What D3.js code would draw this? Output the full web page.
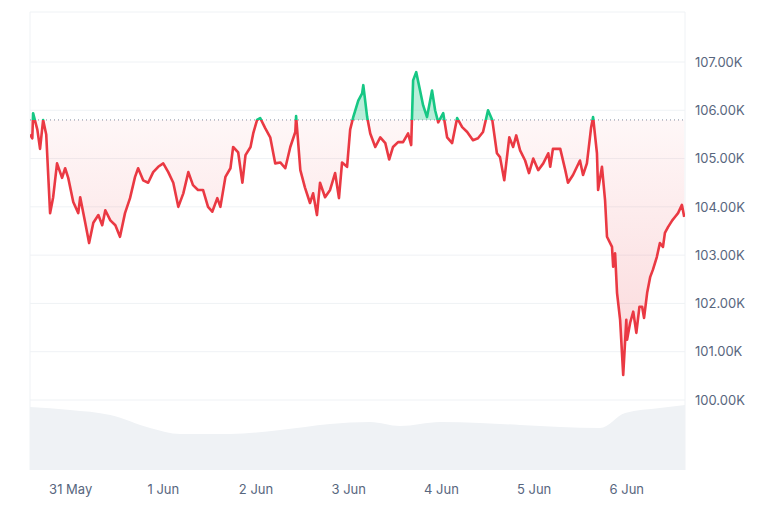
<!DOCTYPE html>
<html lang="en">
<head>
<meta charset="UTF-8" />
<title>Price chart</title>
<script src="https://d3js.org/d3.v7.min.js"></script>
<style>
  body { margin: 0; background: #fff; }
  text { font-family: "Inter", "Noto Sans", sans-serif; }
</style>
</head>
<body>
<svg width="768" height="512"></svg>
<script>
// hours from 31 May 00:00
const hours = [-10.4,-9.8,-9.6,-8.5,-7.8,-7.0,-6.2,-5.2,-4.4,-3.4,-2.1,-1.3,-0.5,0.8,2.1,2.6,3.9,4.9,6.0,7.3,8.3,9.1,10.4,11.7,12.9,14.2,15.5,16.8,17.6,18.9,20.2,21.5,22.8,24.1,25.4,26.7,28.0,29.3,30.6,31.8,33.1,34.4,35.7,36.8,38.1,38.9,40.2,41.5,42.2,43.5,44.6,45.4,46.7,47.4,48.4,49.2,50.5,51.8,53.1,54.4,55.7,57.0,58.3,58.5,59.6,60.8,62.1,62.9,63.9,64.7,66.0,67.3,68.6,69.6,70.4,71.7,72.5,73.3,74.6,75.6,75.9,76.9,77.7,79.0,80.3,81.6,82.6,83.6,84.9,86.2,87.5,88.3,88.8,89.6,90.6,91.4,92.4,93.7,94.5,95.3,96.6,97.6,98.9,100.2,101.5,102.8,104.3,105.6,106.9,108.2,109.3,110.5,111.3,112.4,113.7,114.7,115.5,116.5,117.8,118.8,119.9,121.2,122.5,123.8,124.3,125.0,126.9,128.2,128.9,130.2,132.0,132.8,133.8,134.9,135.4,136.4,136.7,137.7,138.5,139.0,140.3,140.6,141.1,141.6,142.4,143.2,144.0,144.2,145.0,145.8,146.6,147.4,148.1,148.6,149.4,150.2,150.9,151.9,152.7,153.5,154.0,154.8,155.9,156.6,157.4,158.4,159.0];
// price in thousands USD
const prices = [105.5,105.42,105.94,105.6,105.2,105.8,105.5,103.87,104.2,104.9,104.6,104.8,104.6,104.1,103.87,104.2,103.67,103.25,103.67,103.83,103.62,103.93,103.72,103.62,103.38,103.87,104.18,104.62,104.8,104.55,104.5,104.72,104.83,104.9,104.72,104.5,104.0,104.28,104.72,104.45,104.35,104.35,104.0,103.9,104.18,104.0,104.62,104.8,105.24,105.13,104.5,105.07,105.24,105.52,105.8,105.84,105.63,105.44,104.9,104.92,104.8,105.24,105.55,105.88,104.76,104.4,104.08,104.28,103.83,104.5,104.2,104.35,104.7,104.18,104.92,104.83,105.6,105.86,106.2,106.35,106.52,105.86,105.52,105.24,105.44,105.32,104.98,105.24,105.34,105.34,105.52,105.28,106.62,106.79,106.41,106.1,105.86,106.41,106.0,105.75,105.94,105.44,105.32,105.84,105.65,105.55,105.38,105.42,105.55,106.0,105.8,105.11,105.03,104.55,105.44,105.24,105.48,105.17,104.96,104.7,105.0,104.76,104.9,105.11,104.83,105.2,105.2,104.76,104.5,104.66,104.96,104.66,104.9,105.65,105.86,105.11,104.35,104.83,104.14,103.38,103.17,102.76,103.04,102.22,101.66,100.52,101.66,101.25,101.6,101.83,101.39,101.93,101.93,101.7,102.22,102.55,102.7,102.96,103.25,103.17,103.46,103.58,103.72,103.79,103.87,104.04,103.79];
const baseline = 105.8;

const volHours = [-10.4,0,10.4,20.7,28.5,41.4,54.4,67.3,77.7,85.4,95.8,106.1,116.5,126.9,137.2,143.7,152.7,159.2];
const volumes = [63,60,55,42,36,36,40,46,48,44,48,47,45,43,42,57,62,65];

const dayTicks = [0,24,48,72,96,120,144];
const dayLabels = ["31 May","1 Jun","2 Jun","3 Jun","4 Jun","5 Jun","6 Jun"];
const priceTicks = [100,101,102,103,104,105,106,107];

const mL = 30, mR = 685, mT = 12, mB = 470;
const data = hours.map((h, i) => ({ h, v: prices[i] }));
const vol = volHours.map((h, i) => ({ h, v: volumes[i] }));

const x = d3.scaleLinear().domain([-10.4, 159.2]).range([mL, mR]);
const y = d3.scaleLinear().domain([100, 107]).range([400, 62]);
const yv = d3.scaleLinear().domain([0, 100]).range([mB, 370]);

const svg = d3.select("svg");
const defs = svg.append("defs");
const by = y(baseline);

defs.append("clipPath").attr("id", "above").append("rect")
  .attr("x", mL).attr("y", mT).attr("width", mR - mL).attr("height", by - mT);
defs.append("clipPath").attr("id", "below").append("rect")
  .attr("x", mL).attr("y", by).attr("width", mR - mL).attr("height", mB - by);

const gr = defs.append("linearGradient").attr("id", "redfill")
  .attr("gradientUnits", "userSpaceOnUse").attr("x1", 0).attr("x2", 0).attr("y1", by).attr("y2", y(100.5));
gr.append("stop").attr("offset", 0).attr("stop-color", "#ea3943").attr("stop-opacity", 0.04);
gr.append("stop").attr("offset", 1).attr("stop-color", "#ea3943").attr("stop-opacity", 0.2);

// frame
svg.append("line").attr("x1", mL).attr("x2", mR).attr("y1", mT).attr("y2", mT).attr("stroke", "#eff2f5");
svg.append("line").attr("x1", mL).attr("x2", mL).attr("y1", mT).attr("y2", mB).attr("stroke", "#eff2f5");
svg.append("line").attr("x1", mR).attr("x2", mR).attr("y1", mT).attr("y2", mB).attr("stroke", "#eff2f5");

// grid
svg.append("g").selectAll("line").data(priceTicks).join("line")
  .attr("x1", mL).attr("x2", mR)
  .attr("y1", d => y(d)).attr("y2", d => y(d))
  .attr("stroke", "#eff2f5");

// volume
svg.append("path").datum(vol)
  .attr("fill", "#eff2f5")
  .attr("d", d3.area().x(d => x(d.h)).y0(mB).y1(d => yv(d.v)).curve(d3.curveMonotoneX));

const area = d3.area().x(d => x(d.h)).y0(by).y1(d => y(d.v));
const line = d3.line().x(d => x(d.h)).y(d => y(d.v));

svg.append("path").datum(data).attr("clip-path", "url(#below)")
  .attr("fill", "url(#redfill)").attr("d", area);
svg.append("path").datum(data).attr("clip-path", "url(#above)")
  .attr("fill", "#16c784").attr("fill-opacity", 0.3).attr("d", area);

// baseline
svg.append("line").attr("x1", mL).attr("x2", mR).attr("y1", by).attr("y2", by)
  .attr("stroke", "#808a9d").attr("stroke-dasharray", "1,3");

svg.append("path").datum(data).attr("clip-path", "url(#below)")
  .attr("fill", "none").attr("stroke", "#ea3943").attr("stroke-width", 2.6)
  .attr("stroke-linejoin", "round").attr("d", line);
svg.append("path").datum(data).attr("clip-path", "url(#above)")
  .attr("fill", "none").attr("stroke", "#16c784").attr("stroke-width", 2.6)
  .attr("stroke-linejoin", "round").attr("d", line);

// axes
const yAxis = svg.append("g").attr("transform", `translate(${mR},0)`)
  .call(d3.axisRight(y).tickValues(priceTicks).tickSize(0).tickPadding(10)
    .tickFormat(d => d.toFixed(2) + "K"));
yAxis.select(".domain").remove();
yAxis.selectAll("text").attr("fill", "#58667e").attr("font-size", 13);

const xAxis = svg.append("g").attr("transform", `translate(0,${mB})`)
  .call(d3.axisBottom(x).tickValues(dayTicks).tickSize(0).tickPadding(15)
    .tickFormat((d, i) => dayLabels[i]));
xAxis.select(".domain").remove();
xAxis.selectAll("text").attr("fill", "#58667e").attr("font-size", 13);
</script>
</body>
</html>
